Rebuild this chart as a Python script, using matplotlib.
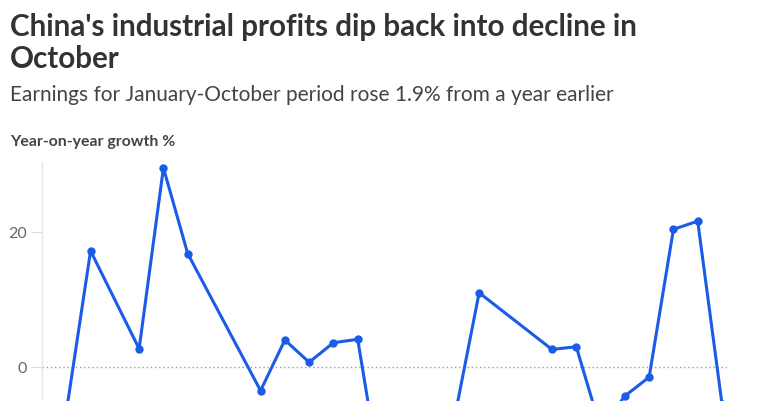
import matplotlib
matplotlib.use("Agg")
import matplotlib.pyplot as plt
import numpy as np

# Monthly year-on-year growth of China's industrial profits (Jun 2023 - Oct 2025)
months = ["2023-06", "2023-07", "2023-08", "2023-10", "2023-11", "2023-12",
          "2024-03", "2024-04", "2024-05", "2024-06", "2024-07", "2024-08",
          "2024-09", "2024-10", "2024-11", "2024-12",
          "2025-03", "2025-04", "2025-05", "2025-06", "2025-07", "2025-08",
          "2025-09", "2025-10"]
growth = [-8.3, -6.7, 17.2, 2.7, 29.5, 16.8,
          -3.5, 4.0, 0.7, 3.6, 4.1, -17.8,
          -27.1, -10.0, -7.3, 11.0,
          2.6, 3.0, -9.1, -4.3, -1.5, 20.4,
          21.6, -5.5]
yticks = [0, 20]

title_lines = ["China's industrial profits dip back into decline in", "October"]
subtitle = "Earnings for January-October period rose 1.9% from a year earlier"
ylabel = "Year-on-year growth %"

def month_index(m):
    y, mo = m.split("-")
    return (int(y) - 2023) * 12 + int(mo) - 6

x = np.array([month_index(m) for m in months])

W, H = 768, 402
fig = plt.figure(figsize=(W / 100, H / 100), dpi=100)
fig.patch.set_facecolor("white")

fam = ["Lato", "DejaVu Sans"]

# axes geometry in pixels
px_unit = 6.75          # pixels per percentage point
y0_px = 368             # pixel row of zero (from top)
ytop, ybot = 30.4, -30.0
left_px, right_px = 42, 727
px_month = 680 / 28

ax_top_px = y0_px - ytop * px_unit
ax_bot_px = y0_px - ybot * px_unit
ax = fig.add_axes([left_px / W, (H - ax_bot_px) / H,
                   (right_px - left_px) / W, (ax_bot_px - ax_top_px) / H])
ax.set_ylim(ybot, ytop)
ax.set_xlim(0, (right_px - left_px) / px_month)

ax.axhline(0, color="#999999", lw=1.0, ls=(0, (1, 2)), zorder=1)
ax.plot(x, growth, color="#1a5ce8", lw=2.2, marker="o", ms=5, zorder=3,
        solid_joinstyle="round")

for s in ["top", "right", "bottom"]:
    ax.spines[s].set_visible(False)
ax.spines["left"].set_color("#e6e6e6")
ax.spines["left"].set_linewidth(1)
ax.set_xticks([])
ax.set_yticks(yticks)
ax.tick_params(axis="y", length=8, color="#dddddd", labelcolor="#666666",
               labelsize=11.5, pad=3)
for lab in ax.get_yticklabels():
    lab.set_family(fam)

for i, line in enumerate(title_lines):
    fig.text(10 / W, 1 - (36 + 32 * i) / H, line, ha="left", va="baseline",
             fontsize=21.3, fontweight="bold", color="#333333", family=fam)
fig.text(10 / W, 1 - 101 / H, subtitle, ha="left", va="baseline", fontsize=15,
         color="#444444", family=fam)
fig.text(10 / W, 1 - 146 / H, ylabel, ha="left", va="baseline", fontsize=11.4,
         fontweight="bold", color="#444444", family=fam)

fig.savefig("out.png", dpi=100)
